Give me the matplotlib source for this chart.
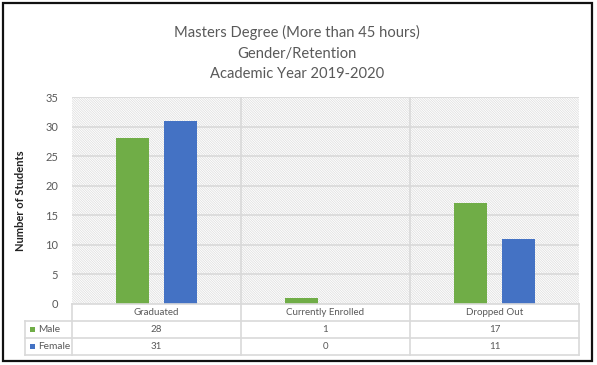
import numpy as np
from matplotlib import pyplot as plt
from matplotlib.patches import Rectangle

categories = ['Graduated', 'Currently Enrolled', 'Dropped Out']
series = ['Male', 'Female']
male = [28, 1, 17]
female = [31, 0, 11]
colors = ['#70ad47', '#4472c4']
title = 'Masters Degree (More than 45 hours)\nGender/Retention\nAcademic Year 2019-2020'

plt.rcParams['font.family'] = ['Lato', 'DejaVu Sans']
text_color = '#595959'
grid_color = '#d9d9d9'

W, H = 597, 365
fig = plt.figure(figsize=(W / 100, H / 100), dpi=100)


def px_axes(x0, y0, x1, y1):
    # pixel box (top-left origin) -> figure axes
    return fig.add_axes([x0 / W, 1 - y1 / H, (x1 - x0) / W, (y1 - y0) / H])


# outer frame
fig.patches.append(Rectangle((3 / W, 1 - 361 / H), 589 / W, 358 / H,
                             transform=fig.transFigure, fill=False,
                             edgecolor='#111111', linewidth=1.6))

ax = px_axes(72, 97, 579, 304)
n = len(categories)
x = np.arange(n)
ax.set_xlim(-0.5, n - 0.5)
ax.set_ylim(0, 35)

# hatched background
ax.patch.set_visible(False)
plt.rcParams['hatch.linewidth'] = 0.5
ax.add_patch(Rectangle((0, 0), 1, 1, transform=ax.transAxes, facecolor='white',
                       edgecolor='#dcdcdc', linewidth=0, hatch='\\' * 14, zorder=0))

for y in range(5, 36, 5):
    ax.axhline(y, color=grid_color, linewidth=1.2, zorder=1)
for b in np.arange(0.5, n - 1, 1):
    ax.axvline(b, color=grid_color, linewidth=1.2, zorder=1)

bw = 0.19
off = 0.142
ax.bar(x - off, male, bw, color=colors[0], zorder=3)
ax.bar(x + off, female, bw, color=colors[1], zorder=3)

ax.set_yticks(range(0, 36, 5))
ax.set_xticks([])
ax.tick_params(axis='y', length=0, labelsize=8, labelcolor=text_color, pad=10)
for s in ax.spines.values():
    s.set_visible(False)
ax.set_ylabel('Number of Students', fontsize=8, fontweight='bold',
              color='#222222', labelpad=14)

fig.text(297 / W, 1 - 53 / H, title, ha='center', va='center', fontsize=10.6,
         color=text_color, linespacing=1.55)

# data table under the plot
tx = px_axes(25, 304, 579, 355)
left = -0.5 - 47 / 169
tx.set_xlim(left, n - 0.5)
tx.set_ylim(3, 0)
tx.axis('off')
lc = '#d9d9d9'
for yy in [1, 2, 3]:
    tx.plot([left, n - 0.5], [yy, yy], color=lc, lw=1.2, clip_on=False)
tx.plot([-0.5, n - 0.5], [0, 0], color=lc, lw=1.2, clip_on=False)
tx.plot([left, left], [1, 3], color=lc, lw=1.2, clip_on=False)
for b in np.arange(-0.5, n, 1):
    tx.plot([b, b], [0, 3], color=lc, lw=1.2, clip_on=False)
for i, c in enumerate(categories):
    tx.text(i, 0.5, c, ha='center', va='center', fontsize=7, color=text_color)
px = 1 / 169  # one pixel in table data units
rowpx = 3 / 51  # one pixel vertically
for r, (name, vals, col) in enumerate(zip(series, [male, female], colors)):
    tx.add_patch(Rectangle((left + 5 * px, r + 1.5 - 2.5 * rowpx), 5 * px, 5 * rowpx,
                           facecolor=col, edgecolor='none', clip_on=False))
    tx.text(left + 13 * px, r + 1.5, name, ha='left', va='center', fontsize=7.3,
            color=text_color)
    for i, v in enumerate(vals):
        tx.text(i, r + 1.5, str(v), ha='center', va='center', fontsize=7,
                color=text_color)

fig.savefig('out.png', dpi=100)
